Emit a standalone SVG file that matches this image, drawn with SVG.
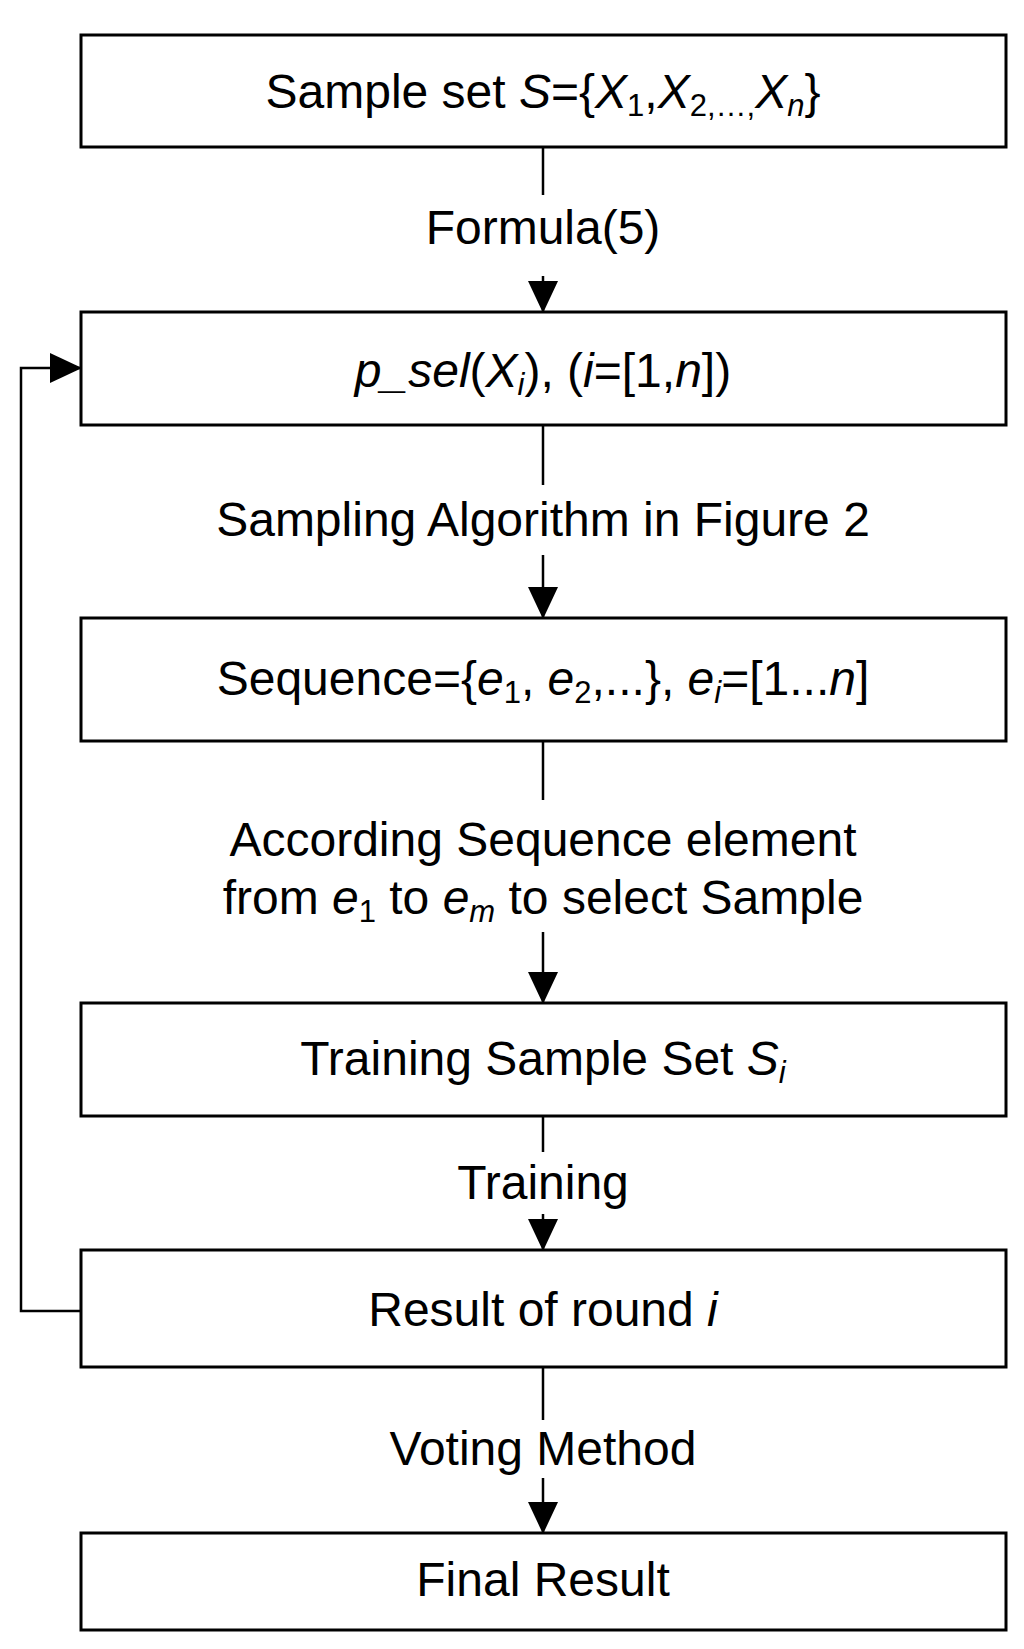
<svg xmlns="http://www.w3.org/2000/svg" width="1024" height="1649" viewBox="0 0 1024 1649">
<style>
.b{fill:#fff;stroke:#000;stroke-width:3}
text{font-family:"Liberation Sans",Arial,sans-serif;font-size:48px;fill:#000;text-anchor:middle}
.i{font-style:italic}
.s{font-size:31px}
.l{stroke:#000;stroke-width:2.5;fill:none}
</style>
<defs><marker id="a" markerWidth="32" markerHeight="30" refX="31" refY="15" orient="auto" markerUnits="userSpaceOnUse"><path d="M0,0 L32,15 L0,30 Z" fill="#000"/></marker></defs>
<rect width="1024" height="1649" fill="#fff"/>
<g id="n1"><rect class="b" x="81" y="35" width="925" height="112"/><text x="543" y="108">Sample set <tspan class="i">S</tspan>={<tspan class="i">X</tspan><tspan class="s" dy="8">1</tspan><tspan dy="-8">,</tspan><tspan class="i">X</tspan><tspan class="s" dy="8">2,…,</tspan><tspan class="i" dy="-8">X</tspan><tspan class="s i" dy="8">n</tspan><tspan dy="-8">}</tspan></text></g>
<g id="n2"><rect class="b" x="81" y="312" width="925" height="113"/><text x="543" y="387"><tspan class="i">p_sel</tspan>(<tspan class="i">X</tspan><tspan class="s i" dy="8">i</tspan><tspan dy="-8">), (</tspan><tspan class="i">i</tspan>=[1,<tspan class="i">n</tspan>])</text></g>
<g id="n3"><rect class="b" x="81" y="618" width="925" height="123"/><text x="543" y="695">Sequence={<tspan class="i">e</tspan><tspan class="s" dy="8">1</tspan><tspan dy="-8">,  </tspan><tspan class="i">e</tspan><tspan class="s" dy="8">2</tspan><tspan dy="-8">,...}, </tspan><tspan class="i">e</tspan><tspan class="s i" dy="8">i</tspan><tspan dy="-8">=[1...</tspan><tspan class="i">n</tspan>]</text></g>
<g id="n4"><rect class="b" x="81" y="1003" width="925" height="113"/><text x="543" y="1075">Training Sample Set <tspan class="i">S</tspan><tspan class="s i" dy="8">i</tspan></text></g>
<g id="n5"><rect class="b" x="81" y="1250" width="925" height="117"/><text x="543" y="1326">Result of round <tspan class="i">i</tspan></text></g>
<g id="n6"><rect class="b" x="81" y="1533" width="925" height="97"/><text x="543" y="1596">Final Result</text></g>
<g id="edges">
<path class="l" d="M543,147V195"/><path class="l" d="M543,276V312" marker-end="url(#a)"/>
<text x="543" y="244">Formula(5)</text>
<path class="l" d="M543,425V485"/><path class="l" d="M543,555V618" marker-end="url(#a)"/>
<text x="543" y="536">Sampling Algorithm in Figure 2</text>
<path class="l" d="M543,741V800"/><path class="l" d="M543,932V1003" marker-end="url(#a)"/>
<text x="543" y="856">According Sequence element</text>
<text x="543" y="914">from <tspan class="i">e</tspan><tspan class="s" dy="8">1</tspan><tspan dy="-8"> to  </tspan><tspan class="i">e</tspan><tspan class="s i" dy="8">m</tspan><tspan dy="-8"> to select Sample</tspan></text>
<path class="l" d="M543,1116V1152"/><path class="l" d="M543,1214V1250" marker-end="url(#a)"/>
<text x="543" y="1199">Training</text>
<path class="l" d="M543,1367V1420"/><path class="l" d="M543,1478V1533" marker-end="url(#a)"/>
<text x="543" y="1465">Voting Method</text>
<path class="l" d="M81,1311H21V368H81" marker-end="url(#a)"/>
</g>
</svg>
